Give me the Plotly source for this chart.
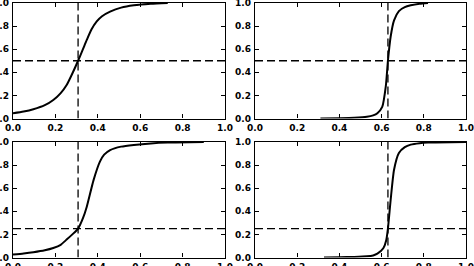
import plotly.graph_objects as go

# ---- data ----
tl_x = [0.0, 0.05, 0.096, 0.15, 0.19, 0.225, 0.253, 0.28, 0.307, 0.33, 0.348, 0.37, 0.395, 0.42, 0.458, 0.51, 0.57, 0.65, 0.73]
tl_y = [0.045, 0.06, 0.08, 0.115, 0.16, 0.22, 0.29, 0.39, 0.5, 0.6, 0.68, 0.77, 0.84, 0.885, 0.925, 0.96, 0.98, 0.993, 1.0]

tr_x = [0.31, 0.40, 0.47, 0.53, 0.56, 0.58, 0.603, 0.62, 0.63, 0.643, 0.659, 0.682, 0.71, 0.738, 0.78, 0.82]
tr_y = [0.0, 0.003, 0.007, 0.015, 0.027, 0.045, 0.10, 0.28, 0.5, 0.71, 0.85, 0.93, 0.965, 0.98, 0.993, 1.0]

bl_x = [0.0, 0.05, 0.096, 0.15, 0.19, 0.225, 0.253, 0.28, 0.307, 0.33, 0.348, 0.38, 0.41, 0.43, 0.458, 0.51, 0.57, 0.65, 0.73, 0.9]
bl_y = [0.025, 0.034, 0.045, 0.062, 0.082, 0.11, 0.155, 0.2, 0.25, 0.34, 0.44, 0.67, 0.83, 0.89, 0.93, 0.96, 0.975, 0.988, 0.995, 1.0]

br_x = [0.327, 0.40, 0.47, 0.53, 0.56, 0.58, 0.608, 0.622, 0.63, 0.643, 0.659, 0.682, 0.71, 0.738, 0.78, 0.82, 1.0]
br_y = [0.0, 0.002, 0.005, 0.01, 0.018, 0.033, 0.08, 0.15, 0.25, 0.5, 0.76, 0.905, 0.955, 0.977, 0.99, 0.995, 1.0]

v_lines = [0.307, 0.63, 0.307, 0.63]
h_lines = [0.5, 0.5, 0.25, 0.25]

tick_vals = [0.0, 0.2, 0.4, 0.6, 0.8, 1.0]
tick_text = ["0.0", "0.2", "0.4", "0.6", "0.8", "1.0"]

curves = [(tl_x, tl_y), (tr_x, tr_y), (bl_x, bl_y), (br_x, br_y)]

W, H = 474, 266
x_doms = [[13 / W, 225 / W], [255 / W, 466 / W]]
y_doms = [[1 - 118.5 / H, 1 - 3 / H], [1 - 257.5 / H, 1 - 142 / H]]

fig = go.Figure()
font = dict(family="DejaVu Sans", size=9, color="black", weight="bold")

for i, (cx, cy) in enumerate(curves):
    xa = "x" if i == 0 else f"x{i+1}"
    ya = "y" if i == 0 else f"y{i+1}"
    fig.add_trace(go.Scatter(x=cx, y=cy, mode="lines", xaxis=xa, yaxis=ya,
                             line=dict(color="black", width=2, shape="spline", smoothing=0.6),
                             showlegend=False, hoverinfo="skip"))
    fig.add_trace(go.Scatter(x=[0, 1], y=[h_lines[i], h_lines[i]], mode="lines", xaxis=xa, yaxis=ya,
                             line=dict(color="black", width=1.3, dash="8px,4px"),
                             showlegend=False, hoverinfo="skip"))
    fig.add_trace(go.Scatter(x=[v_lines[i], v_lines[i]], y=[0, 1], mode="lines", xaxis=xa, yaxis=ya,
                             line=dict(color="black", width=1.3, dash="8px,4px"),
                             showlegend=False, hoverinfo="skip"))

    col = i % 2
    row = i // 2
    axcommon = dict(range=[0, 1], showgrid=False, zeroline=False, showline=True,
                    linecolor="black", linewidth=1.3, mirror="ticks", ticks="inside",
                    ticklen=4, tickwidth=1, tickcolor="black",
                    tickvals=tick_vals, ticktext=tick_text, tickfont=font,
                    ticklabeloverflow="allow",
                    fixedrange=True, automargin=False)
    xkey = "xaxis" if i == 0 else f"xaxis{i+1}"
    ykey = "yaxis" if i == 0 else f"yaxis{i+1}"
    fig.update_layout(**{
        xkey: dict(domain=x_doms[col], anchor=ya, ticklabelstandoff=1, **axcommon),
        ykey: dict(domain=y_doms[row], anchor=xa, ticklabelstandoff=1, **axcommon),
    })

fig.update_layout(width=W, height=H, autosize=False,
                  margin=dict(l=0, r=0, t=0, b=0, pad=0),
                  plot_bgcolor="white", paper_bgcolor="white")

fig.write_html("out.html")
